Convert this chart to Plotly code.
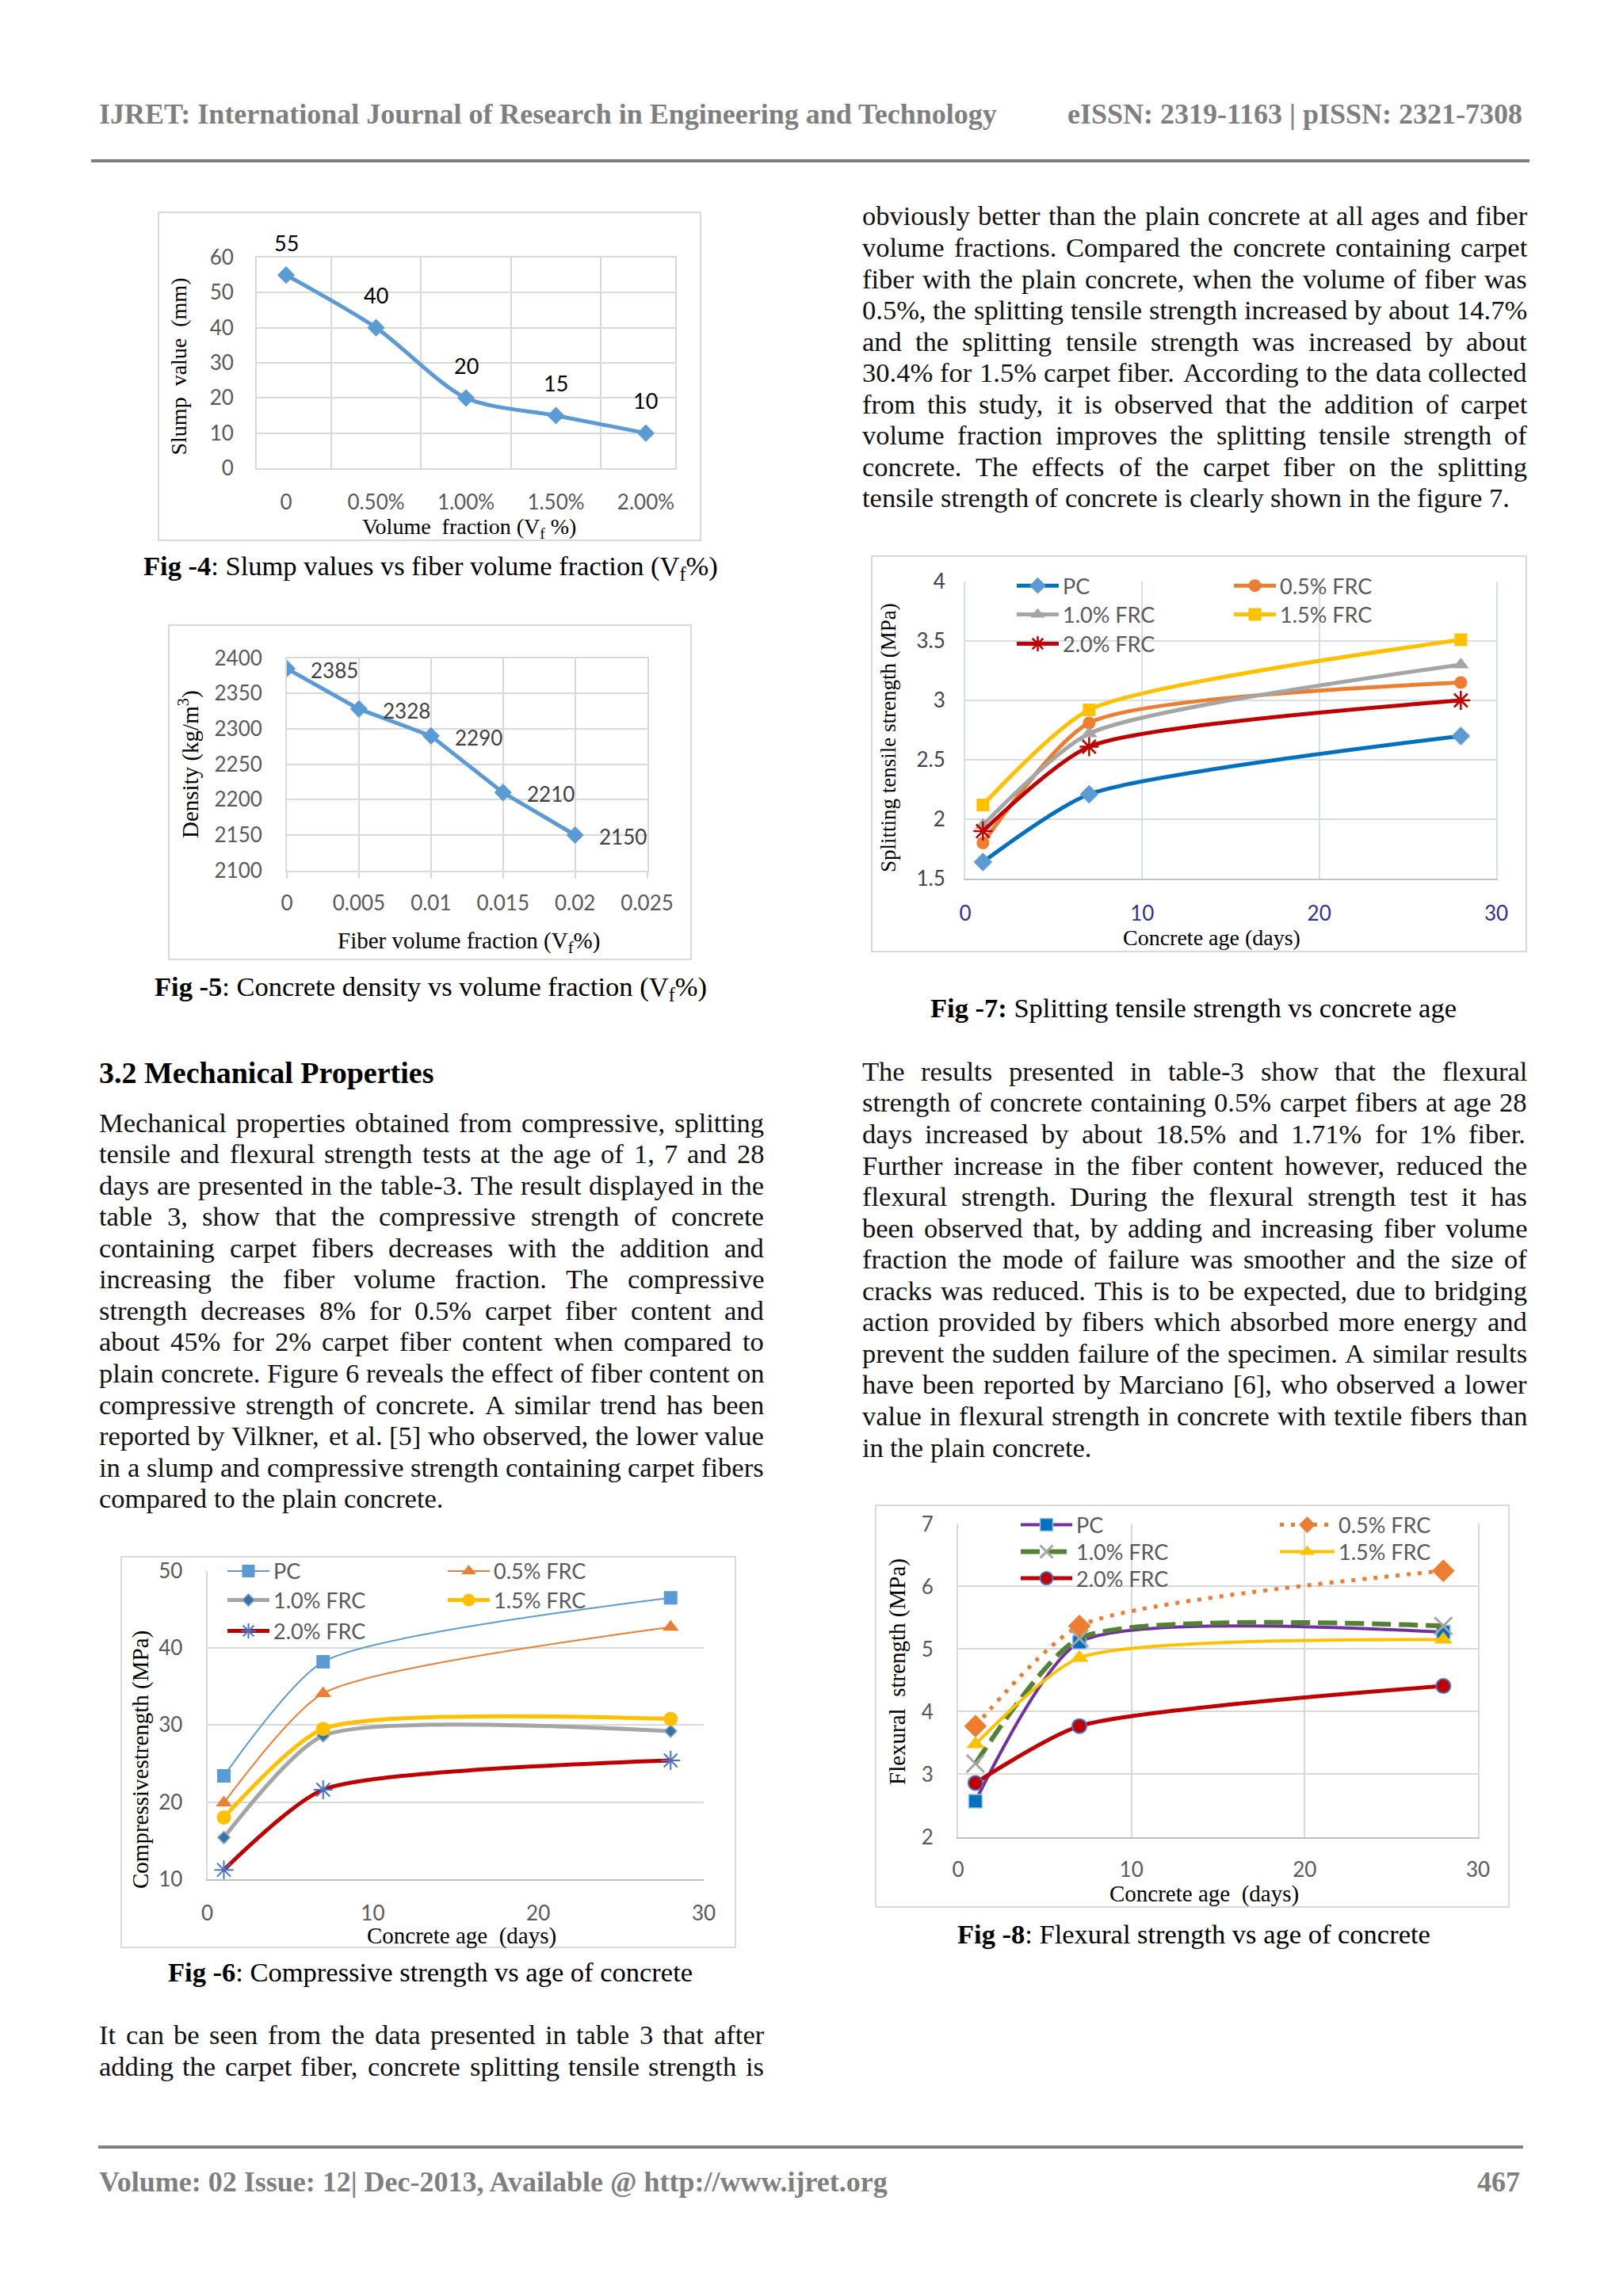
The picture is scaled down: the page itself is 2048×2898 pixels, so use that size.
import plotly.graph_objects as go

W, H = 2048, 2898


def px(x):
    return x / W


def py(y):
    return 1 - y / H


# ---------------- data ----------------
slump_cats = ["0", "0.50%", "1.00%", "1.50%", "2.00%"]
slump_vals = [55, 40, 20, 15, 10]

density_vf = [0, 0.005, 0.01, 0.015, 0.02]
density_vals = [2385, 2328, 2290, 2210, 2150]

ages = [1, 7, 28]
series_names = ["PC", "0.5% FRC", "1.0% FRC", "1.5% FRC", "2.0% FRC"]

comp_pc = [23.4, 38.2, 46.5]
comp_05 = [19.9, 34.1, 42.7]
comp_10 = [15.4, 28.6, 29.2]
comp_15 = [18.0, 29.5, 30.8]
comp_20 = [11.2, 21.6, 25.4]

split_pc = [1.64, 2.21, 2.70]
split_05 = [1.80, 2.81, 3.15]
split_10 = [1.95, 2.72, 3.30]
split_15 = [2.12, 2.92, 3.51]
split_20 = [1.90, 2.61, 3.00]

flex_pc = [2.57, 5.11, 5.27]
flex_05 = [3.77, 5.37, 6.25]
flex_10 = [3.17, 5.17, 5.37]
flex_15 = [3.48, 4.86, 5.15]
flex_20 = [2.86, 3.77, 4.41]

# ---------------- text ----------------
header_left = "IJRET: International Journal of Research in Engineering and Technology"
header_right = "eISSN: 2319-1163 | pISSN: 2321-7308"
footer_left = "Volume: 02 Issue: 12| Dec-2013, Available @ http://www.ijret.org"
footer_right = "467"
section_heading = "3.2 Mechanical Properties"

right_par1 = [
    "obviously better than the plain concrete at all ages and fiber",
    "volume fractions. Compared the concrete containing carpet",
    "fiber with the plain concrete, when the volume of fiber was",
    "0.5%, the splitting tensile strength increased by about 14.7%",
    "and the splitting tensile strength was increased by about",
    "30.4% for 1.5% carpet fiber. According to the data collected",
    "from this study, it is observed that the addition of carpet",
    "volume fraction improves the splitting tensile strength of",
    "concrete. The effects of the carpet fiber on the splitting",
    "tensile strength of concrete is clearly shown in the figure 7.",
]
right_par2 = [
    "The results presented in table-3 show that the flexural",
    "strength of concrete containing 0.5% carpet fibers at age 28",
    "days increased by about 18.5% and 1.71% for 1% fiber.",
    "Further increase in the fiber content however, reduced the",
    "flexural strength. During the flexural strength test it has",
    "been observed that, by adding and increasing fiber volume",
    "fraction the mode of failure was smoother and the size of",
    "cracks was reduced. This is to be expected, due to bridging",
    "action provided by fibers which absorbed more energy and",
    "prevent the sudden failure of the specimen. A similar results",
    "have been reported by Marciano [6], who observed a lower",
    "value in flexural strength in concrete with textile fibers than",
    "in the plain concrete.",
]
left_par = [
    "Mechanical properties obtained from compressive, splitting",
    "tensile and flexural strength tests at the age of 1, 7 and 28",
    "days are presented in the table-3. The result displayed in the",
    "table 3, show that the compressive strength of concrete",
    "containing carpet fibers decreases with the addition and",
    "increasing the fiber volume fraction. The compressive",
    "strength decreases 8% for 0.5% carpet fiber content and",
    "about 45% for 2% carpet fiber content when compared to",
    "plain concrete. Figure 6 reveals the effect of fiber content on",
    "compressive strength of concrete. A similar trend has been",
    "reported by Vilkner, et al. [5] who observed, the lower value",
    "in a slump and compressive strength containing carpet fibers",
    "compared to the plain concrete.",
]
left_bottom = [
    "It can be seen from the data presented in table 3 that after",
    "adding the carpet fiber, concrete splitting tensile strength is",
]

SERIF = "Liberation Serif, Times New Roman, serif"
SANS = "Lato, Open Sans, sans-serif"
GRID = "#D9D9D9"
TICKC = "#595959"

# Times-Roman advance widths (per 1000 em), metric compatible with Liberation Serif
TW = {}
for c, w in zip("abcdefghijklmnopqrstuvwxyz",
                [444, 500, 444, 500, 444, 333, 500, 500, 278, 278, 500, 278, 778,
                 500, 500, 500, 500, 333, 389, 278, 500, 500, 722, 500, 500, 444]):
    TW[c] = w
for c, w in zip("ABCDEFGHIJKLMNOPQRSTUVWXYZ",
                [722, 667, 667, 722, 611, 556, 722, 722, 333, 389, 722, 611, 889,
                 722, 722, 556, 722, 667, 556, 611, 722, 722, 944, 722, 722, 611]):
    TW[c] = w
for c in "0123456789":
    TW[c] = 500
TW.update({" ": 250, ".": 250, ",": 250, "-": 333, "%": 833, "(": 333, ")": 333,
           "[": 333, "]": 333, ":": 278, ";": 278, "@": 921, "/": 278, "|": 200, "'": 333})


def text_width(s, size):
    return sum(TW.get(ch, 500) for ch in s) * size / 1000.0


annotations = []
shapes = []

BODY = 34.5


def body_line(line, y, x0, x1, justify, size=BODY):
    words = line.split()
    ws = [text_width(w, size) for w in words]
    if justify and len(words) > 1:
        gap = (x1 - x0 - sum(ws)) / (len(words) - 1)
    else:
        gap = 0.25 * size
    x = x0
    for w, wd in zip(words, ws):
        annotations.append(dict(
            x=px(x), y=py(y - 3), xref="paper", yref="paper", text=w,
            showarrow=False, xanchor="left", yanchor="middle", borderpad=0,
            font=dict(family=SERIF, size=size, color="#111111")))
        x += wd + gap


def paragraph(lines, y0, x0, x1, step=39.55, last_justified=False):
    for i, ln in enumerate(lines):
        just = (i < len(lines) - 1) or last_justified
        body_line(ln, y0 + i * step, x0, x1, just)


LX0, LX1 = 124, 963
RX0, RX1 = 1087, 1926
paragraph(right_par1, 275.4, RX0, RX1)
paragraph(right_par2, 1354.9, RX0, RX1)
paragraph(left_par, 1419.6, LX0, LX1)
paragraph(left_bottom, 2571.1, LX0, LX1, last_justified=True)


def label(x, y, text, size, xanchor="center", color="#000000", family=SERIF, angle=0):
    annotations.append(dict(
        x=px(x), y=py(y), xref="paper", yref="paper", text=text, showarrow=False,
        xanchor=xanchor, yanchor="middle", textangle=angle, borderpad=0,
        font=dict(family=family, size=size, color=color)))


# header / footer
label(124, 144, "<b>" + header_left + "</b>", 36, "left", "#7F7F7F")
label(1922, 144, "<b>" + header_right + "</b>", 36, "right", "#7F7F7F")
label(124, 2754, "<b>" + footer_left + "</b>", 36, "left", "#7F7F7F")
label(1919, 2754, "<b>" + footer_right + "</b>", 36, "right", "#7F7F7F")
shapes.append(dict(type="line", xref="paper", yref="paper", x0=px(115), x1=px(1930),
                   y0=py(203), y1=py(203), line=dict(color="#7F7F7F", width=4)))
shapes.append(dict(type="line", xref="paper", yref="paper", x0=px(124), x1=px(1922),
                   y0=py(2710), y1=py(2710), line=dict(color="#7F7F7F", width=4)))

# section heading
label(124, 1354, "<b>" + section_heading + "</b>", 38, "left", "#000000")

# captions
CAP = 34.5
label(543, 716, "<b>Fig -4</b>: Slump values vs fiber volume fraction (V<sub>f</sub>%)", CAP)
label(543, 1247, "<b>Fig -5</b>: Concrete density vs volume fraction (V<sub>f</sub>%)", CAP)
label(543, 2489, "<b>Fig -6</b>: Compressive strength vs age of concrete", CAP)
label(1506, 1272, "<b>Fig -7:</b> Splitting tensile strength vs concrete age", CAP)
label(1506, 2441, "<b>Fig -8</b>: Flexural strength vs age of concrete", CAP)

# chart frames
for (x0, y0, x1, y1) in [(200, 268, 884, 682), (213, 789, 872, 1211), (1100, 702, 1926, 1201),
                         (153, 1965, 928, 2458), (1105, 1900, 1904, 2407)]:
    shapes.append(dict(type="rect", xref="paper", yref="paper", x0=px(x0), x1=px(x1),
                       y0=py(y1), y1=py(y0), line=dict(color=GRID, width=2),
                       fillcolor="rgba(0,0,0,0)", layer="below"))

# axis titles
label(224.5, 463, "Slump\u00a0 value\u00a0 (mm)", 28, angle=-90)
label(592, 666, "Volume\u00a0 fraction (V<sub>f</sub> %)", 28)
label(239, 965, "Density (kg/m<sup>3</sup>)", 29, angle=-90)
label(591, 1189, "Fiber volume fraction (V<sub>f</sub>%)", 29)
label(1121, 931, "Splitting tensile strength (MPa)", 27, angle=-90)
label(1529, 1183, "Concrete age (days)", 28)
label(177, 2221, "Compressivestrength (MPa)", 29, angle=-90)
label(582, 2443, "Concrete age\u00a0 (days)", 29)
label(1132, 2110, "Flexural\u00a0 strength (MPa)", 29, angle=-90)
label(1519, 2390, "Concrete age\u00a0 (days)", 29)

fig = go.Figure()

# ---------- Fig 4: slump ----------
fig.add_trace(go.Scatter(
    x=slump_cats, y=slump_vals, mode="lines+markers", xaxis="x", yaxis="y",
    line=dict(color="#5B9BD5", width=5, shape="spline", smoothing=0.8),
    marker=dict(symbol="diamond", size=17, color="#5B9BD5"), showlegend=False))
for c, v in zip(slump_cats, slump_vals):
    annotations.append(dict(x=c, y=v, xref="x", yref="y", text=str(v), showarrow=False,
                            yshift=41, font=dict(family=SANS, size=27, color="#000000")))

# ---------- Fig 5: density ----------
fig.add_trace(go.Scatter(
    x=density_vf, y=density_vals, mode="lines+markers", xaxis="x2", yaxis="y2",
    line=dict(color="#5B9BD5", width=5),
    marker=dict(symbol="diamond", size=17, color="#5B9BD5"), showlegend=False))
for xv, v in zip(density_vf, density_vals):
    annotations.append(dict(x=xv, y=v, xref="x2", yref="y2", text=str(v), showarrow=False,
                            xanchor="left", xshift=28, yshift=-2,
                            font=dict(family=SANS, size=26, color="#404040")))

legends = {}
legend_counter = [1]


def make_legend(marker_x, row_y, text_x, size=27, color=TICKC):
    legend_counter[0] += 1
    key = "legend%d" % legend_counter[0]
    origin = marker_x - 20
    iw = max(30, text_x - origin - 10)
    legends[key] = dict(x=px(origin), y=py(row_y), xref="paper", yref="paper",
                        xanchor="left", yanchor="middle", itemwidth=iw,
                        bgcolor="rgba(0,0,0,0)", borderwidth=0,
                        font=dict(family=SANS, size=size, color=color))
    return key


def add_series(xa, ya, vals, name, line, marker, leg):
    fig.add_trace(go.Scatter(x=ages, y=vals, name=name, mode="lines+markers",
                             xaxis=xa, yaxis=ya, line=line, marker=marker,
                             legend=leg, showlegend=True))


SM = 0.6
pos = [(0, 0), (0, 1), (1, 0), (1, 1), (2, 0)]

# ---------- Fig 7: splitting tensile ----------
rows7 = [739.6, 776, 813]
cols7 = [(1298, 1341), (1572, 1615)]
styles7 = [
    (split_pc, dict(color="#0070C0", width=5, shape="spline", smoothing=SM), dict(symbol="diamond", size=18, color="#5B9BD5")),
    (split_05, dict(color="#ED7D31", width=5, shape="spline", smoothing=SM), dict(symbol="circle", size=16, color="#ED7D31")),
    (split_10, dict(color="#A5A5A5", width=5, shape="spline", smoothing=SM), dict(symbol="triangle-up", size=18, color="#A5A5A5")),
    (split_15, dict(color="#FFC000", width=5, shape="spline", smoothing=SM), dict(symbol="square", size=16, color="#FFC000")),
    (split_20, dict(color="#C00000", width=5, shape="spline", smoothing=SM), dict(symbol="asterisk-open", size=20, color="#C00000", line=dict(width=2.5, color="#C00000"))),
]
for (vals, ln, mk), nm, (r, c) in zip(styles7, series_names, pos):
    leg = make_legend(cols7[c][0], rows7[r], cols7[c][1])
    add_series("x3", "y3", vals, nm, ln, mk, leg)

# ---------- Fig 6: compressive ----------
rows6 = [1983.4, 2020, 2059]
cols6 = [(302, 345), (580, 623)]
styles6 = [
    (comp_pc, dict(color="#5B9BD5", width=2, shape="spline", smoothing=SM), dict(symbol="square", size=17, color="#5B9BD5")),
    (comp_05, dict(color="#ED7D31", width=2, shape="spline", smoothing=SM), dict(symbol="triangle-up", size=18, color="#ED7D31")),
    (comp_10, dict(color="#A5A5A5", width=5, shape="spline", smoothing=SM), dict(symbol="diamond", size=12, color="#2E75B6", line=dict(width=1.5, color="#A5A5A5"))),
    (comp_15, dict(color="#FFC000", width=5, shape="spline", smoothing=SM), dict(symbol="circle", size=18, color="#FFC000")),
    (comp_20, dict(color="#C00000", width=5, shape="spline", smoothing=SM), dict(symbol="asterisk-open", size=20, color="#4472C4", line=dict(width=2, color="#4472C4"))),
]
for (vals, ln, mk), nm, (r, c) in zip(styles6, series_names, pos):
    leg = make_legend(cols6[c][0], rows6[r], cols6[c][1])
    add_series("x4", "y4", vals, nm, ln, mk, leg)

# ---------- Fig 8: flexural ----------
rows8 = [1925, 1959, 1992.5]
cols8 = [(1303, 1358), (1630, 1689)]
styles8 = [
    (flex_pc, dict(color="#7030A0", width=4, shape="spline", smoothing=SM), dict(symbol="square", size=17, color="#0070C0", line=dict(width=1.5, color="#9DC3E6"))),
    (flex_05, dict(color="#ED7D31", width=5, shape="spline", smoothing=SM, dash="5px,9px"), dict(symbol="diamond", size=22, color="#ED7D31")),
    (flex_10, dict(color="#548235", width=6, shape="spline", smoothing=SM, dash="24px,10px"), dict(symbol="x-thin-open", size=22, color="#A5A5A5", line=dict(width=3, color="#A5A5A5"))),
    (flex_15, dict(color="#FFC000", width=4, shape="spline", smoothing=SM), dict(symbol="triangle-up", size=20, color="#FFC000")),
    (flex_20, dict(color="#C00000", width=5, shape="spline", smoothing=SM), dict(symbol="circle", size=18, color="#C00000", line=dict(width=2, color="#4472C4"))),
]
for (vals, ln, mk), nm, (r, c) in zip(styles8, series_names, pos):
    leg = make_legend(cols8[c][0], rows8[r], cols8[c][1])
    add_series("x5", "y5", vals, nm, ln, mk, leg)

TF = dict(family=SANS, size=26, color=TICKC)

fig.update_layout(
    width=W, height=H, margin=dict(l=0, r=0, t=0, b=0, pad=0, autoexpand=False),
    paper_bgcolor="white", plot_bgcolor="white", showlegend=True,
    xaxis=dict(domain=[px(324), px(852)], anchor="y", type="category", categoryorder="array",
               categoryarray=slump_cats, tickson="boundaries", showgrid=True, gridcolor=GRID,
               gridwidth=2, ticks="", showline=True, mirror=True, linecolor=GRID, linewidth=2,
               tickfont=TF, ticklabelstandoff=19, fixedrange=True, automargin=False),
    yaxis=dict(domain=[py(591), py(325)], anchor="x", range=[0, 60], dtick=10, showgrid=True,
               gridcolor=GRID, gridwidth=2, zeroline=False, showline=True, mirror=True,
               linecolor=GRID, linewidth=2, ticks="", tickfont=TF, ticklabelstandoff=22,
               automargin=False),
    xaxis2=dict(domain=[px(362), px(816.6)], anchor="y2", range=[0, 0.025], dtick=0.005,
                showgrid=True, gridcolor=GRID, gridwidth=2, zeroline=False, showline=True,
                mirror=True, linecolor=GRID, linewidth=2, ticks="outside", ticklen=8,
                tickcolor=GRID, tickwidth=2, tickfont=TF, ticklabelstandoff=9, automargin=False),
    yaxis2=dict(domain=[py(1098.7), py(830.5)], anchor="x2", range=[2100, 2400], dtick=50,
                showgrid=True, gridcolor=GRID, gridwidth=2, zeroline=False, showline=True,
                mirror=True, linecolor=GRID, linewidth=2, ticks="", tickfont=TF,
                ticklabelstandoff=24, automargin=False),
    xaxis3=dict(domain=[px(1218), px(1888)], anchor="y3", range=[0, 30], dtick=10,
                showgrid=True, gridcolor="#D9DDE6", gridwidth=2, zeroline=False, showline=True,
                linecolor="#BFC4D1", linewidth=2, ticks="",
                tickfont=dict(family=SANS, size=26, color="#2E3192"), ticklabelstandoff=20,
                automargin=False),
    yaxis3=dict(domain=[py(1109), py(734)], anchor="x3", range=[1.5, 4], dtick=0.5,
                showgrid=True, gridcolor="#D9DDE6", gridwidth=2, zeroline=False, showline=True,
                mirror=True, linecolor="#D9DDE6", linewidth=2, ticks="",
                tickfont=dict(family=SANS, size=26, color="#3F4452"), ticklabelstandoff=18,
                automargin=False),
    xaxis4=dict(domain=[px(261.6), px(888)], anchor="y4", range=[0, 30], dtick=10,
                showgrid=False, zeroline=False, showline=True, linecolor="#BFBFBF", linewidth=2,
                ticks="", tickfont=TF, ticklabelstandoff=19, automargin=False),
    yaxis4=dict(domain=[py(2371.8), py(1982.8)], anchor="x4", range=[10, 50], dtick=10,
                showgrid=True, gridcolor=GRID, gridwidth=2, zeroline=False, showline=True,
                linecolor=GRID, linewidth=2, ticks="", tickfont=TF, ticklabelstandoff=24,
                automargin=False),
    xaxis5=dict(domain=[px(1209), px(1865)], anchor="y5", range=[0, 30], dtick=10,
                showgrid=True, gridcolor=GRID, gridwidth=2, zeroline=False, showline=True,
                linecolor="#BFBFBF", linewidth=2, ticks="", tickfont=TF, ticklabelstandoff=17,
                automargin=False),
    yaxis5=dict(domain=[py(2318.5), py(1923.4)], anchor="x5", range=[2, 7], dtick=1,
                showgrid=True, gridcolor=GRID, gridwidth=2, zeroline=False, showline=True,
                mirror=True, linecolor=GRID, linewidth=2, ticks="", tickfont=TF,
                ticklabelstandoff=24, automargin=False),
    annotations=annotations,
    shapes=shapes,
)
fig.update_layout(**legends)

fig.write_html(
    "out.html",
    config={"displayModeBar": False},
    post_script="document.documentElement.style.margin='0';document.body.style.margin='0';"
                "document.body.style.padding='0';document.documentElement.style.overflow='hidden';",
)
